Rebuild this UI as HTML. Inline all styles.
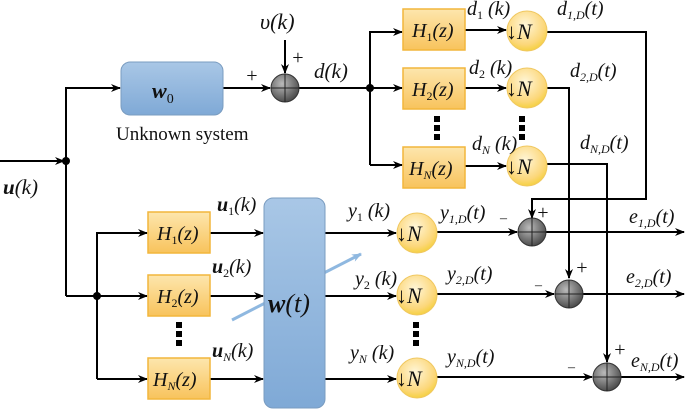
<!DOCTYPE html>
<html><head><style>body{margin:0;background:#fff}svg{display:block}text{font-family:"Liberation Serif",serif;font-style:italic;fill:#111}</style></head><body>
<svg width="685" height="410" viewBox="0 0 685 410" xmlns="http://www.w3.org/2000/svg">
<defs>
<marker id="a" markerWidth="10" markerHeight="8" refX="9" refY="4" orient="auto" markerUnits="userSpaceOnUse"><path d="M0,0 L10,4 L0,8 L3,4z" fill="#000"/></marker>
<marker id="b" markerWidth="10" markerHeight="8" refX="9" refY="4" orient="auto" markerUnits="userSpaceOnUse"><path d="M0,0 L10,4 L0,8 L3,4z" fill="#8fb8e0"/></marker>
<linearGradient id="og" x1="0" y1="0" x2="0" y2="1"><stop offset="0" stop-color="#fde6ad"/><stop offset="1" stop-color="#f8c35c"/></linearGradient>
<linearGradient id="bg" x1="0" y1="0" x2="0" y2="1"><stop offset="0" stop-color="#a9c7e6"/><stop offset="1" stop-color="#7fa9d6"/></linearGradient>
<radialGradient id="yg" cx="0.45" cy="0.35" r="0.7"><stop offset="0" stop-color="#fff6d8"/><stop offset="0.7" stop-color="#fcd77a"/><stop offset="1" stop-color="#f3cf30"/></radialGradient>
<radialGradient id="gg" cx="0.4" cy="0.35" r="0.7"><stop offset="0" stop-color="#bbb"/><stop offset="1" stop-color="#444"/></radialGradient>
</defs>
<g stroke="#000" stroke-width="2" fill="none">
<path d="M0,161 H64" marker-end="url(#a)"/>
<path d="M66,296 V88 H120" marker-end="url(#a)"/>
<path d="M223,88 H270" marker-end="url(#a)"/>
<path d="M285,40 V73" marker-end="url(#a)"/>
<path d="M299,88 H370"/>
<path d="M370,165 V32 H402" marker-end="url(#a)"/>
<path d="M370,88 H402" marker-end="url(#a)"/>
<path d="M370,165 H402" marker-end="url(#a)"/>
<path d="M465,30 H506" marker-end="url(#a)"/>
<path d="M465,88 H506" marker-end="url(#a)"/>
<path d="M465,166 H506" marker-end="url(#a)"/>
<path d="M547,32 H646 V199 H532 V218" marker-end="url(#a)"/>
<path d="M547,88 H569 V278" marker-end="url(#a)"/>
<path d="M547,164 H607 V362" marker-end="url(#a)"/>
<path d="M546,232 H684" marker-end="url(#a)"/>
<path d="M583,294 H684" marker-end="url(#a)"/>
<path d="M621,377 H684" marker-end="url(#a)"/>
<path d="M66,296 H97"/>
<path d="M97,379 V233 H147" marker-end="url(#a)"/>
<path d="M97,296 H147" marker-end="url(#a)"/>
<path d="M97,379 H147" marker-end="url(#a)"/>
<path d="M210,233 H263" marker-end="url(#a)"/>
<path d="M210,296 H263" marker-end="url(#a)"/>
<path d="M210,379 H263" marker-end="url(#a)"/>
<path d="M325,233 H396" marker-end="url(#a)"/>
<path d="M325,296 H396" marker-end="url(#a)"/>
<path d="M325,379 H396" marker-end="url(#a)"/>
<path d="M437,232 H517" marker-end="url(#a)"/>
<path d="M437,294 H554" marker-end="url(#a)"/>
<path d="M437,377 H592" marker-end="url(#a)"/>
</g>
<circle cx="66" cy="161" r="4"/><circle cx="370" cy="88" r="4"/><circle cx="97" cy="296" r="4"/>
<line x1="232" y1="320" x2="361" y2="254" stroke="#8fb8e0" stroke-width="3" marker-end="url(#b)"/>
<rect x="121" y="62" width="102" height="53" rx="9" fill="url(#bg)" stroke="#7a9cc0"/>
<rect x="264" y="198" width="61" height="210" rx="9" fill="url(#bg)" stroke="#7a9cc0"/>
<g fill="url(#og)" stroke="#f2b63c" stroke-width="1.5">
<rect x="403" y="9" width="62" height="41"/><rect x="403" y="68" width="62" height="41"/><rect x="403" y="147" width="62" height="41"/>
<rect x="148" y="212" width="62" height="41"/><rect x="148" y="275" width="62" height="41"/><rect x="148" y="358" width="62" height="41"/>
</g>
<g fill="url(#yg)" stroke="#f0c860" stroke-width="1">
<circle cx="527" cy="31" r="20"/><circle cx="527" cy="88" r="20"/><circle cx="527" cy="166" r="20"/>
<circle cx="417" cy="233" r="20"/><circle cx="417" cy="295" r="20"/><circle cx="417" cy="378" r="20"/>
</g>
<g fill="url(#gg)" stroke="#333">
<circle cx="285" cy="88" r="14"/><circle cx="532" cy="232" r="14"/><circle cx="569" cy="294" r="14"/><circle cx="607" cy="377" r="14"/>
</g>
<g stroke="#222" stroke-width="1">
<path d="M271,88H299M285,74V102"/><path d="M518,232H546M532,218V246"/><path d="M555,294H583M569,280V308"/><path d="M593,377H621M607,363V391"/>
</g>
<g fill="#000"><rect x="434" y="116" width="6" height="6"/><rect x="434" y="125" width="6" height="6"/><rect x="434" y="134" width="6" height="6"/>
<rect x="519" y="116" width="6" height="6"/><rect x="519" y="125" width="6" height="6"/><rect x="519" y="134" width="6" height="6"/>
<rect x="176" y="322" width="6" height="6"/><rect x="176" y="331" width="6" height="6"/><rect x="176" y="340" width="6" height="6"/>
<rect x="413" y="322" width="6" height="6"/><rect x="413" y="331" width="6" height="6"/><rect x="413" y="340" width="6" height="6"/></g>
<g font-size="22">
<text x="152" y="98" font-weight="bold">w<tspan font-size="14" font-weight="normal" font-style="normal" dy="5">0</tspan></text>
<text x="268" y="312" font-size="26" font-weight="bold">w<tspan font-weight="normal">(t)</tspan></text>
<text x="3" y="194" font-size="21"><tspan font-weight="bold">u</tspan>(k)</text>
<text x="260" y="29" font-size="22">υ(k)</text>
<text x="314" y="78" font-size="21">d(k)</text>
</g>
<text x="116" y="140" font-size="19" style="font-style:normal">Unknown system</text>
<g font-size="20" style="font-style:normal">
<text x="245" y="82">+</text><text x="291" y="64">+</text>
<text x="536" y="219">+</text><text x="575" y="274">+</text><text x="613" y="356">+</text>
<text x="500" y="222" font-size="14">–</text><text x="535" y="289" font-size="14">–</text><text x="568" y="371" font-size="14">–</text>
</g>
<g font-size="20">
<text x="412" y="37">H<tspan font-size="12" dy="4" font-style="normal">1</tspan><tspan dy="-4">(z)</tspan></text>
<text x="412" y="96">H<tspan font-size="12" dy="4" font-style="normal">2</tspan><tspan dy="-4">(z)</tspan></text>
<text x="409" y="175">H<tspan font-size="12" dy="4">N</tspan><tspan dy="-4">(z)</tspan></text>
<text x="157" y="240">H<tspan font-size="12" dy="4" font-style="normal">1</tspan><tspan dy="-4">(z)</tspan></text>
<text x="157" y="303">H<tspan font-size="12" dy="4" font-style="normal">2</tspan><tspan dy="-4">(z)</tspan></text>
<text x="153" y="386">H<tspan font-size="12" dy="4">N</tspan><tspan dy="-4">(z)</tspan></text>
<g style="font-style:normal" font-size="22"><text x="506" y="39">↓<tspan style="font-style:italic">N</tspan></text><text x="506" y="96">↓<tspan style="font-style:italic">N</tspan></text><text x="506" y="174">↓<tspan style="font-style:italic">N</tspan></text>
<text x="396" y="241">↓<tspan style="font-style:italic">N</tspan></text><text x="396" y="303">↓<tspan style="font-style:italic">N</tspan></text><text x="396" y="386">↓<tspan style="font-style:italic">N</tspan></text></g>
<text x="467" y="15">d<tspan font-size="12" dy="4" font-style="normal">1</tspan><tspan dy="-4"> (k)</tspan></text>
<text x="469" y="74">d<tspan font-size="12" dy="4" font-style="normal">2</tspan><tspan dy="-4"> (k)</tspan></text>
<text x="472" y="150">d<tspan font-size="12" dy="4">N</tspan><tspan dy="-4"> (k)</tspan></text>
<text x="557" y="15">d<tspan font-size="12" dy="4">1,D</tspan><tspan dy="-4">(t)</tspan></text>
<text x="570" y="77">d<tspan font-size="12" dy="4">2,D</tspan><tspan dy="-4">(t)</tspan></text>
<text x="580" y="149">d<tspan font-size="12" dy="4">N,D</tspan><tspan dy="-4">(t)</tspan></text>
<text x="217" y="211"><tspan font-weight="bold">u</tspan><tspan font-size="12" dy="4" font-style="normal">1</tspan><tspan dy="-4">(k)</tspan></text>
<text x="212" y="273"><tspan font-weight="bold">u</tspan><tspan font-size="12" dy="4" font-style="normal">2</tspan><tspan dy="-4">(k)</tspan></text>
<text x="212" y="357"><tspan font-weight="bold">u</tspan><tspan font-size="12" dy="4">N</tspan><tspan dy="-4">(k)</tspan></text>
<text x="348" y="217">y<tspan font-size="12" dy="4" font-style="normal">1</tspan><tspan dy="-4"> (k)</tspan></text>
<text x="355" y="285">y<tspan font-size="12" dy="4" font-style="normal">2</tspan><tspan dy="-4"> (k)</tspan></text>
<text x="350" y="359">y<tspan font-size="12" dy="4">N</tspan><tspan dy="-4"> (k)</tspan></text>
<text x="440" y="219">y<tspan font-size="12" dy="4">1,D</tspan><tspan dy="-4">(t)</tspan></text>
<text x="447" y="280">y<tspan font-size="12" dy="4">2,D</tspan><tspan dy="-4">(t)</tspan></text>
<text x="447" y="363">y<tspan font-size="12" dy="4">N,D</tspan><tspan dy="-4">(t)</tspan></text>
<text x="629" y="223">e<tspan font-size="12" dy="4">1,D</tspan><tspan dy="-4">(t)</tspan></text>
<text x="626" y="283">e<tspan font-size="12" dy="4">2,D</tspan><tspan dy="-4">(t)</tspan></text>
<text x="631" y="367">e<tspan font-size="12" dy="4">N,D</tspan><tspan dy="-4">(t)</tspan></text>
</g>
</svg>
</body></html>
